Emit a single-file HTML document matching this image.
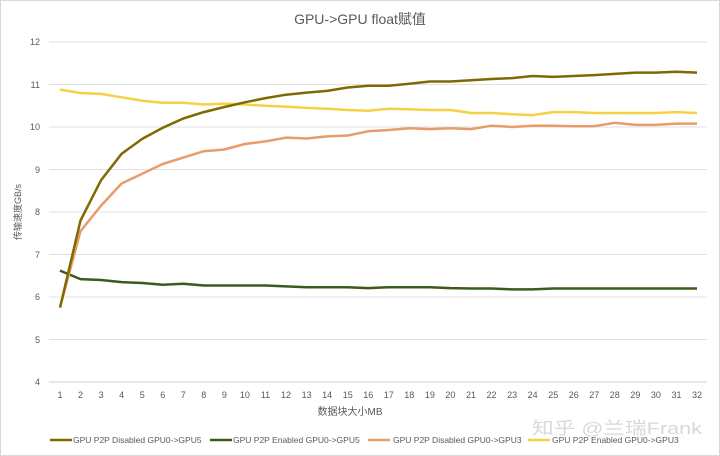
<!DOCTYPE html>
<html><head><meta charset="utf-8"><style>
body{margin:0;background:#fff;}
svg{display:block;font-family:"Liberation Sans","Noto Sans CJK SC",sans-serif;}
</style></head><body>
<svg id="s" width="720" height="456" viewBox="0 0 720 456">
<rect x="0.5" y="0.5" width="719" height="455" fill="#fff" stroke="#d9d9d9"/>
<text x="360" y="24" font-size="14" fill="#595959" text-anchor="middle">GPU-&gt;GPU float赋值</text>
<g stroke="#e0e0e0" stroke-width="1">
<line x1="49" x2="707" y1="42" y2="42"/><line x1="49" x2="707" y1="84.5" y2="84.5"/>
<line x1="49" x2="707" y1="127" y2="127"/><line x1="49" x2="707" y1="169.5" y2="169.5"/>
<line x1="49" x2="707" y1="212" y2="212"/><line x1="49" x2="707" y1="254.5" y2="254.5"/>
<line x1="49" x2="707" y1="297" y2="297"/><line x1="49" x2="707" y1="339.5" y2="339.5"/>
<line x1="49" x2="707" y1="382" y2="382" stroke="#d0d0d0"/>
</g>
<g font-size="9" fill="#595959" text-anchor="end">
<text x="40" y="45">12</text><text x="40" y="88">11</text><text x="40" y="130">10</text>
<text x="40" y="173">9</text><text x="40" y="215">8</text><text x="40" y="258">7</text>
<text x="40" y="300">6</text><text x="40" y="343">5</text><text x="40" y="385">4</text>
</g>
<g id="xl" font-size="9" fill="#595959" text-anchor="middle">
<text x="60" y="398">1</text><text x="80.5" y="398">2</text><text x="101.1" y="398">3</text><text x="121.6" y="398">4</text><text x="142.2" y="398">5</text><text x="162.7" y="398">6</text><text x="183.3" y="398">7</text><text x="203.8" y="398">8</text><text x="224.4" y="398">9</text><text x="244.9" y="398">10</text><text x="265.5" y="398">11</text><text x="286" y="398">12</text><text x="306.6" y="398">13</text><text x="327.1" y="398">14</text><text x="347.7" y="398">15</text><text x="368.2" y="398">16</text><text x="388.8" y="398">17</text><text x="409.3" y="398">18</text><text x="429.9" y="398">19</text><text x="450.4" y="398">20</text><text x="471" y="398">21</text><text x="491.5" y="398">22</text><text x="512.1" y="398">23</text><text x="532.6" y="398">24</text><text x="553.2" y="398">25</text><text x="573.7" y="398">26</text><text x="594.3" y="398">27</text><text x="614.8" y="398">28</text><text x="635.4" y="398">29</text><text x="655.9" y="398">30</text><text x="676.5" y="398">31</text><text x="697" y="398">32</text>
</g>
<text x="350" y="415" font-size="10" fill="#595959" text-anchor="middle">数据块大小MB</text>
<text transform="translate(21,212) rotate(-90)" font-size="9" fill="#595959" text-anchor="middle">传输速度GB/s</text>
<g id="lines" fill="none" stroke-width="2.5" stroke-linejoin="round"></g>
<g font-size="8.5" fill="#595959">
<line x1="50" x2="72" y1="440" y2="440" stroke="#7f6a00" stroke-width="2.5"/><text x="73" y="443">GPU P2P Disabled GPU0-&gt;GPU5</text>
<line x1="210" x2="232" y1="440" y2="440" stroke="#3d5a1e" stroke-width="2.5"/><text x="233" y="443">GPU P2P Enabled GPU0-&gt;GPU5</text>
<line x1="368" x2="390" y1="440" y2="440" stroke="#e99c6a" stroke-width="2.5"/><text x="393" y="443">GPU P2P Disabled GPU0-&gt;GPU3</text>
<line x1="528" x2="550" y1="440" y2="440" stroke="#f5d245" stroke-width="2.5"/><text x="552" y="443">GPU P2P Enabled GPU0-&gt;GPU3</text>
</g>
<text x="532" y="434" font-size="17" fill="#d8d8d8" textLength="170" lengthAdjust="spacingAndGlyphs">知乎 @兰瑞Frank</text>
</svg>
<script>
var D=[
["#3d5a1e",[6.62,6.42,6.4,6.35,6.33,6.29,6.31,6.27,6.27,6.27,6.27,6.25,6.23,6.23,6.23,6.21,6.23,6.23,6.23,6.21,6.2,6.2,6.18,6.18,6.2,6.2,6.2,6.2,6.2,6.2,6.2,6.2]],
["#f5d245",[10.88,10.8,10.78,10.7,10.62,10.57,10.57,10.53,10.55,10.53,10.5,10.48,10.45,10.43,10.4,10.38,10.43,10.42,10.4,10.4,10.33,10.33,10.3,10.28,10.35,10.35,10.33,10.33,10.33,10.33,10.35,10.33]],
["#e99c6a",[5.75,7.55,8.15,8.67,8.9,9.13,9.28,9.43,9.47,9.6,9.66,9.75,9.73,9.78,9.8,9.9,9.93,9.97,9.95,9.97,9.95,10.03,10.0,10.03,10.03,10.02,10.02,10.1,10.05,10.05,10.08,10.08]],
["#7f6a00",[5.75,7.8,8.75,9.37,9.72,9.98,10.2,10.35,10.47,10.58,10.68,10.76,10.81,10.85,10.93,10.97,10.97,11.02,11.07,11.07,11.1,11.13,11.15,11.2,11.18,11.2,11.22,11.25,11.28,11.28,11.3,11.28]]];
var g=document.getElementById('lines'),h='';
D.forEach(function(s){var p=s[1].map(function(v,i){return (60+i*20.548).toFixed(1)+','+(42+(12-v)*42.5).toFixed(1)}).join(' ');
h+='<polyline stroke="'+s[0]+'" points="'+p+'"/>';});
g.innerHTML=h;
</script>
</body></html>
